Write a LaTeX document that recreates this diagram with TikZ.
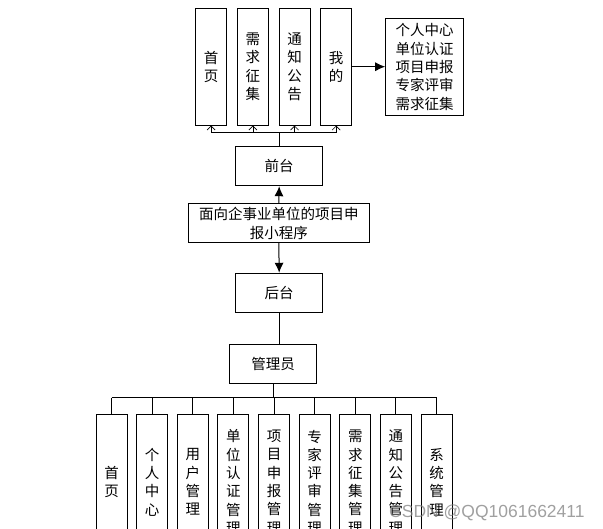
\documentclass[tikz,border=0pt]{standalone}
\usepackage{fontspec}
\setmainfont{Noto Sans CJK SC}
\newfontfamily\markfont{Liberation Sans}
\usepackage{tikz}
\usetikzlibrary{arrows.meta}
\usetikzlibrary{calc}
\usetikzlibrary{positioning}
\tikzset{>={Latex[length=10pt,width=9pt]}}

\begin{document}
\begin{tikzpicture}[
                x=1pt, y=-1pt,
                every node/.style={font=\fontsize{14.5pt}{18.3pt}\selectfont},
                box/.style={draw, line width=1pt, align=center, inner sep=0pt},
                tallbox/.style={box, minimum width=31pt, minimum height=116.7pt},
                lowbox/.style={box, minimum width=31pt, minimum height=134pt},
                widebox/.style={box, minimum width=87pt, minimum height=39pt},
                link/.style={line width=1pt},
                tick/.style={line width=0.7pt, -{Straight Barb[length=4pt,width=8pt]}}
            ]
            \useasboundingbox (0,0) rectangle (603,529);
            % front end menu
            \foreach \i/\txt in {0/首\\页, 1/需\\求\\征\\集, 2/通\\知\\公\\告, 3/我\\的} {
                \node[tallbox] (top\i) at (211.2+41.67*\i, 66.7) {\txt};
            }
            \node[box, minimum width=77.6pt, minimum height=97.4pt] (mine) at (424.5, 67)
                {个人中心\\单位认证\\项目申报\\专家评审\\需求征集};
            \draw[link, ->] (top3.east |- 0,66.7) -- (mine.west |- 0,66.7);

            \node[widebox] (front) at (279.2, 166.2) {前台};
            \node[box, minimum width=181pt, minimum height=38.7pt] (app) at (278.8, 223.3)
                {面向企事业单位的项目申\\报小程序};
            \node[widebox] (back) at (279.2, 292.8) {后台};
            \node[widebox, minimum width=87.4pt] (admin) at (273, 363.8) {管理员};

            \coordinate (topbus) at (279, 132.7);
            \draw[link] (front.north -| topbus) -- (topbus);
            \draw[link] (top0.south |- topbus) -- (top3.south |- topbus);
            \foreach \i in {0,...,3} {
                \draw[tick] (top\i.south |- topbus) -- (top\i.south);
            }
            \draw[link, ->] (app.north) -- (front.south);
            \draw[link, ->] (app.south) -- (back.north);
            \draw[link] (back.south) -- (back.south |- admin.north);

            % back end menu
            \foreach \i/\txt in {0/首\\页, 1/个\\人\\中\\心, 2/用\\户\\管\\理,
                                 3/单\\位\\认\\证\\管\\理, 4/项\\目\\申\\报\\管\\理,
                                 5/专\\家\\评\\审\\管\\理, 6/需\\求\\征\\集\\管\\理,
                                 7/通\\知\\公\\告\\管\\理, 8/系\\统\\管\\理} {
                \node[lowbox] (low\i) at (111.6+40.62*\i, 482) {\txt};
            }
            \coordinate (lowbus) at (273, 397.7);
            \draw[link] (admin.south) -- (lowbus);
            \draw[link] (low0.north |- lowbus) -- (low8.north |- lowbus);
            \foreach \i in {0,...,8} {
                \draw[link] (low\i.north |- lowbus) -- (low\i.north);
            }

            \node[anchor=base west, inner sep=0pt, text=gray, opacity=0.75,
                  font=\markfont\fontsize{17.5pt}{20pt}\selectfont] (mark) at (389, 517)
                {CSDN @QQ1061662411};
        \end{tikzpicture}
\end{document}
